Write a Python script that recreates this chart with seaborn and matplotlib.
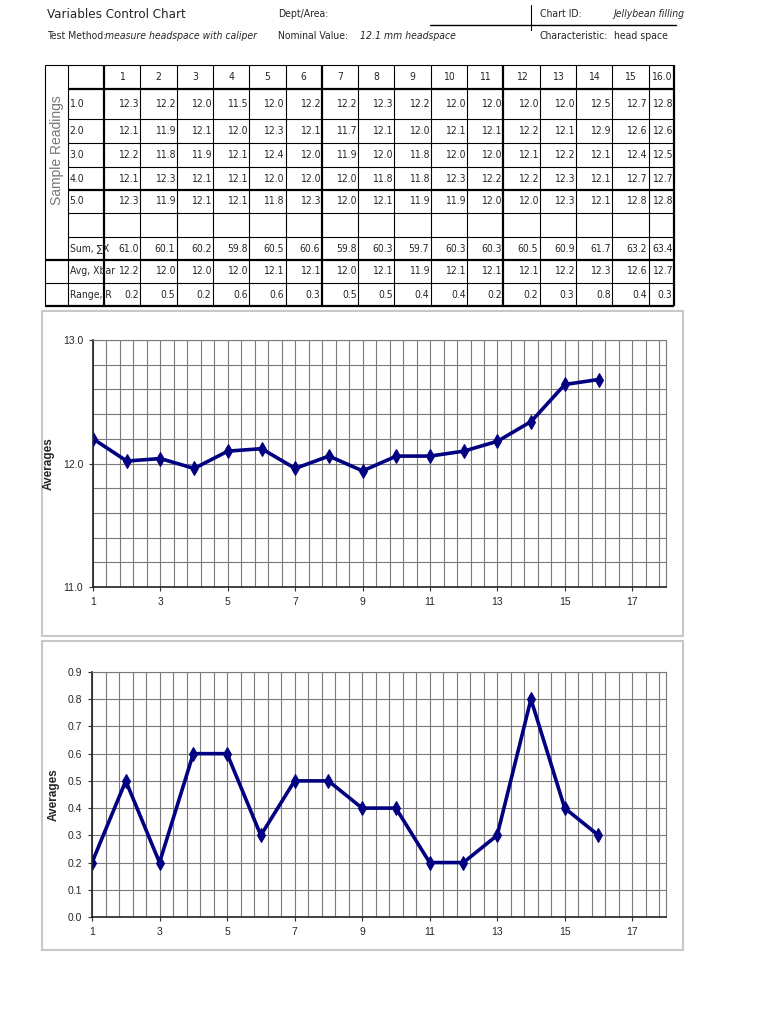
import numpy as np
import pandas as pd
import matplotlib
matplotlib.use("Agg")
import matplotlib.pyplot as plt
from matplotlib import font_manager
from matplotlib.patches import Rectangle
import seaborn as sns

# sample numbers and the five readings per sample
samples = list(range(1, 17))
col_labels = [str(i) for i in range(1, 16)] + ["16.0"]
row_labels = ["1.0", "2.0", "3.0", "4.0", "5.0"]
reading_1 = [12.3, 12.2, 12.0, 11.5, 12.0, 12.2, 12.2, 12.3, 12.2, 12.0, 12.0, 12.0, 12.0, 12.5, 12.7, 12.8]
reading_2 = [12.1, 11.9, 12.1, 12.0, 12.3, 12.1, 11.7, 12.1, 12.0, 12.1, 12.1, 12.2, 12.1, 12.9, 12.6, 12.6]
reading_3 = [12.2, 11.8, 11.9, 12.1, 12.4, 12.0, 11.9, 12.0, 11.8, 12.0, 12.0, 12.1, 12.2, 12.1, 12.4, 12.5]
reading_4 = [12.1, 12.3, 12.1, 12.1, 12.0, 12.0, 12.0, 11.8, 11.8, 12.3, 12.2, 12.2, 12.3, 12.1, 12.7, 12.7]
reading_5 = [12.3, 11.9, 12.1, 12.1, 11.8, 12.3, 12.0, 12.1, 11.9, 11.9, 12.0, 12.0, 12.3, 12.1, 12.8, 12.8]
sums = [61.0, 60.1, 60.2, 59.8, 60.5, 60.6, 59.8, 60.3, 59.7, 60.3, 60.3, 60.5, 60.9, 61.7, 63.2, 63.4]
avgs = [12.2, 12.0, 12.0, 12.0, 12.1, 12.1, 12.0, 12.1, 11.9, 12.1, 12.1, 12.1, 12.2, 12.3, 12.6, 12.7]
ranges = [0.2, 0.5, 0.2, 0.6, 0.6, 0.3, 0.5, 0.5, 0.4, 0.4, 0.2, 0.2, 0.3, 0.8, 0.4, 0.3]

# plotted averages (unrounded, as drawn on the chart)
xbar_points = [12.20, 12.02, 12.04, 11.96, 12.10, 12.12, 11.96, 12.06, 11.94, 12.06, 12.06, 12.10, 12.18, 12.34, 12.64, 12.68]

sns.set_style("white")
plt.rcParams['font.family'] = ['Liberation Sans', 'DejaVu Sans']

# use a condensed face for the sheet text if one is installed
narrow = None
narrow_it = None
for f in font_manager.fontManager.ttflist:
    fl = f.fname.lower()
    if 'dejavusanscondensed.ttf' in fl:
        narrow = f.fname
    if 'dejavusanscondensed-oblique' in fl:
        narrow_it = f.fname


def sheet_text(x, y, s, size, italic=False, **kw):
    if narrow:
        if italic and narrow_it:
            fp = font_manager.FontProperties(fname=narrow_it, size=size)
        else:
            fp = font_manager.FontProperties(fname=narrow, size=size)
        return page.text(x, y, s, fontproperties=fp, **kw)
    return page.text(x, y, s, fontsize=size * 0.9, style='italic' if italic else 'normal', **kw)


fig = plt.figure(figsize=(7.68, 10.24), dpi=100)
page = fig.add_axes([0, 0, 1, 1])
page.set_xlim(0, 768)
page.set_ylim(1024, 0)
page.axis('off')

# header
hs = 7.5
sheet_text(47, 14, "Variables Control Chart", 9.5, va='center')
sheet_text(278, 14, "Dept/Area:", hs, va='center')
sheet_text(540, 14, "Chart ID:", hs, va='center')
sheet_text(614, 14, "Jellybean filling", hs, italic=True, va='center')
sheet_text(47, 36, "Test Method:", hs, va='center')
sheet_text(105, 36, "measure headspace with caliper", hs, italic=True, va='center')
sheet_text(278, 36, "Nominal Value:", hs, va='center')
sheet_text(360, 36, "12.1 mm headspace", hs, italic=True, va='center')
sheet_text(540, 36, "Characteristic:", hs, va='center')
sheet_text(614, 36, "head space", hs, va='center')
page.plot([430, 676], [25, 25], color='black', lw=1)
page.plot([531, 531], [5, 30], color='black', lw=0.8)

# table grid
col_edges = [45, 68, 104] + [104 + 36.3 * i for i in range(1, 16)] + [674]
row_edges = [65, 89, 119, 143, 167, 190, 213, 237, 260, 283, 306]
thick_rows = {89, 190, 260, 306}
for y in row_edges:
    x0 = 45 if y in (65, 260, 283, 306) else 68
    page.plot([x0, 674], [y, y], color='black', lw=1.6 if y in thick_rows else 0.8,
              solid_capstyle='butt')
thick_cols = {104, col_edges[8], col_edges[13], 674}
for i, x in enumerate(col_edges):
    page.plot([x, x], [65, 306], color='black', lw=1.6 if x in thick_cols else 0.8,
              solid_capstyle='butt')

ts = 7.5
for j, lab in enumerate(col_labels):
    cx = (col_edges[j + 2] + col_edges[j + 3]) / 2
    sheet_text(cx, 77, lab, ts, ha='center', va='center')

table_rows = [reading_1, reading_2, reading_3, reading_4, reading_5, None, sums, avgs, ranges]
labels = row_labels + ["", "Sum, \u2211X", "Avg, Xbar", "Range, R"]
for r, (vals, lab) in enumerate(zip(table_rows, labels)):
    y0, y1 = row_edges[r + 1], row_edges[r + 2]
    cy = (y0 + y1) / 2
    t = sheet_text(69.5, cy, lab, ts, va='center')
    t.set_clip_path(Rectangle((68, y0), 35.5, y1 - y0, transform=page.transData))
    if vals is None:
        continue
    for j, v in enumerate(vals):
        sheet_text(col_edges[j + 3] - 1.5, cy, f"{v:.1f}", ts, ha='right', va='center')

page.text(57, 150, "Sample Readings", rotation=90, color='#777777', fontsize=10,
          ha='center', va='center')

# chart frames
page.add_patch(Rectangle((42, 311), 641, 325, fill=False, edgecolor='#c8c8c8', lw=1.5))
page.add_patch(Rectangle((42, 641), 641, 309, fill=False, edgecolor='#c8c8c8', lw=1.5))

navy = '#000080'
grid_c = '#7a7a7a'


def style_chart(ax, ymin, ymax, ystep, yticks):
    ax.set_xlim(1, 18)
    ax.set_ylim(ymin, ymax)
    ax.set_xticks(list(range(1, 18, 2)))
    ax.set_xticks([1 + 0.4 * k for k in range(43)], minor=True)
    ax.set_yticks(yticks)
    n = int(round((ymax - ymin) / ystep))
    ax.set_yticks([ymin + ystep * k for k in range(n + 1)], minor=True)
    ax.grid(which='both', color=grid_c, lw=0.8)
    ax.set_axisbelow(True)
    ax.tick_params(which='major', labelsize=7.5, length=3, direction='out', pad=4,
                   bottom=True, left=True, color='#333333')
    ax.tick_params(which='minor', length=0)
    for s in ['left', 'bottom']:
        ax.spines[s].set_color('#222222')
        ax.spines[s].set_linewidth(1.2)
    for s in ['top', 'right']:
        ax.spines[s].set_color(grid_c)
        ax.spines[s].set_linewidth(0.8)
    ax.set_xlabel('')
    ax.set_ylabel('Averages', fontsize=8.5, fontweight='bold', labelpad=6)
    ax.yaxis.set_major_formatter(matplotlib.ticker.FormatStrFormatter('%.1f'))


# averages chart
ax1 = fig.add_axes([93 / 768, 1 - 587 / 1024, (666 - 93) / 768, (587 - 340) / 1024])
df1 = pd.DataFrame({'sample': samples, 'xbar': xbar_points})
sns.lineplot(data=df1, x='sample', y='xbar', ax=ax1, color=navy, lw=2.6,
             marker='d', markersize=7.5, markeredgecolor=navy)
style_chart(ax1, 11.0, 13.0, 0.2, [11.0, 12.0, 13.0])

# range chart
ax2 = fig.add_axes([92 / 768, 1 - 917 / 1024, (666 - 92) / 768, (917 - 672) / 1024])
df2 = pd.DataFrame({'sample': samples, 'range': ranges})
sns.lineplot(data=df2, x='sample', y='range', ax=ax2, color=navy, lw=2.6,
             marker='d', markersize=7.5, markeredgecolor=navy)
style_chart(ax2, 0.0, 0.9, 0.1, [round(0.1 * k, 1) for k in range(10)])

fig.savefig('out.png', dpi=100)
